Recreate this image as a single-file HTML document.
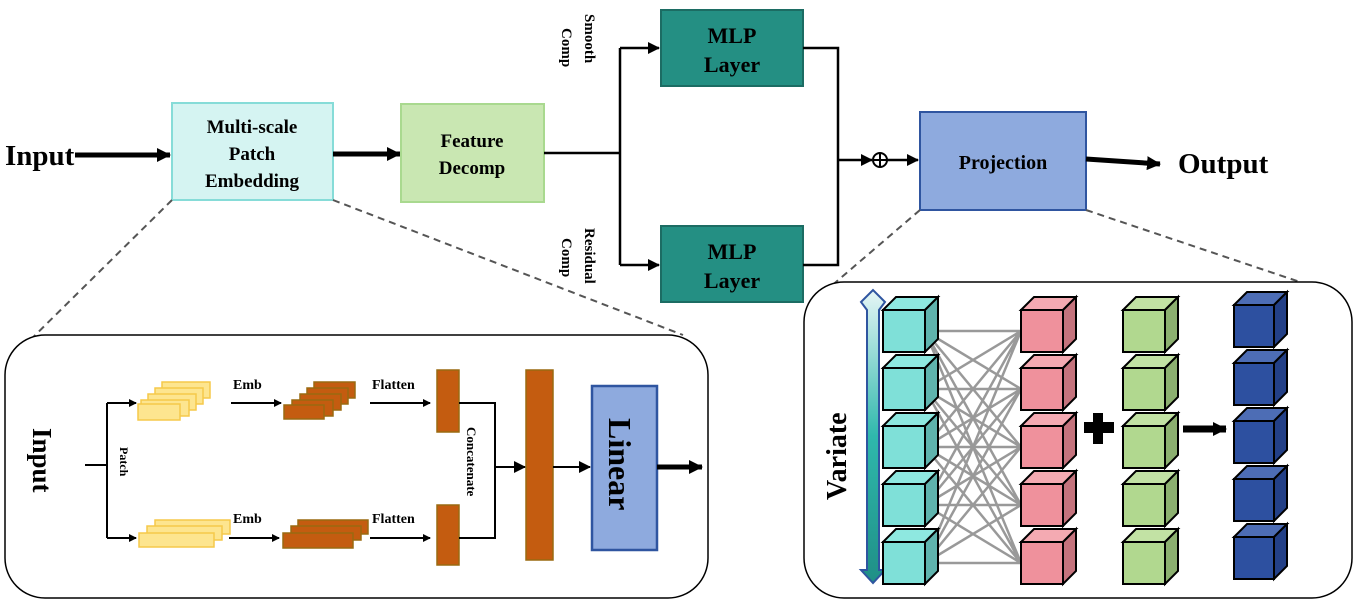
<!DOCTYPE html>
<html><head><meta charset="utf-8"><style>body{margin:0;background:#fff}svg{display:block}text{font-family:"Liberation Serif",serif;font-weight:bold}</style></head><body>
<svg width="1353" height="602" viewBox="0 0 1353 602" xmlns="http://www.w3.org/2000/svg">
<defs>
<marker id="ah" markerWidth="8" markerHeight="8" refX="7" refY="4" orient="auto" markerUnits="userSpaceOnUse"><path d="M0,0 L8,4 L0,8z" fill="#000"/></marker>
<marker id="ahb" markerWidth="14" markerHeight="14" refX="13" refY="7" orient="auto" markerUnits="userSpaceOnUse"><path d="M0,0 L14,7 L0,14z" fill="#000"/></marker>
<marker id="ahm" markerWidth="12" markerHeight="12" refX="11" refY="6" orient="auto" markerUnits="userSpaceOnUse"><path d="M0,0 L12,6 L0,12z" fill="#000"/></marker>
<g id="ct"><rect x="0" y="0" width="42" height="42" fill="#7fe0d8" stroke="#000" stroke-width="2"/><path d="M0,0 L13,-13 L55,-13 L42,0z" fill="#8ee8e0" stroke="#000" stroke-width="2"/><path d="M42,0 L55,-13 L55,29 L42,42z" fill="#5fb3ad" stroke="#000" stroke-width="2"/></g>
<g id="cp"><rect x="0" y="0" width="42" height="42" fill="#ef919c" stroke="#000" stroke-width="2"/><path d="M0,0 L13,-13 L55,-13 L42,0z" fill="#f4aab2" stroke="#000" stroke-width="2"/><path d="M42,0 L55,-13 L55,29 L42,42z" fill="#c4737d" stroke="#000" stroke-width="2"/></g>
<g id="cg"><rect x="0" y="0" width="42" height="42" fill="#b1d88f" stroke="#000" stroke-width="2"/><path d="M0,0 L13,-13 L55,-13 L42,0z" fill="#c2e2a4" stroke="#000" stroke-width="2"/><path d="M42,0 L55,-13 L55,29 L42,42z" fill="#8cb070" stroke="#000" stroke-width="2"/></g>
<g id="cb"><rect x="0" y="0" width="40" height="42" fill="#2d50a0" stroke="#000" stroke-width="2"/><path d="M0,0 L13,-13 L53,-13 L40,0z" fill="#4d6db5" stroke="#000" stroke-width="2"/><path d="M40,0 L53,-13 L53,29 L40,42z" fill="#234087" stroke="#000" stroke-width="2"/></g>
<linearGradient id="vg" x1="0" y1="0" x2="0" y2="1"><stop offset="0" stop-color="#e6f6f6"/><stop offset="0.5" stop-color="#2fb8ac"/><stop offset="1" stop-color="#1f8f86"/></linearGradient>
</defs>

<text x="5" y="165" font-size="29">Input</text>
<line x1="75" y1="155" x2="170" y2="155" stroke="#000" stroke-width="5" marker-end="url(#ahb)"/>
<rect x="172" y="103" width="161" height="97" fill="#d5f4f2" stroke="#86dcd8" stroke-width="2"/>
<text x="252" y="133" font-size="19" text-anchor="middle">Multi-scale</text>
<text x="252" y="160" font-size="19" text-anchor="middle">Patch</text>
<text x="252" y="187" font-size="19" text-anchor="middle">Embedding</text>
<line x1="333" y1="154" x2="400" y2="154" stroke="#000" stroke-width="5" marker-end="url(#ahb)"/>
<rect x="401" y="104" width="143" height="98" fill="#c9e7b2" stroke="#a9d98f" stroke-width="2"/>
<text x="472" y="147" font-size="19" text-anchor="middle">Feature</text>
<text x="472" y="174" font-size="19" text-anchor="middle">Decomp</text>
<path d="M544,153 H620 M620,48 V265" stroke="#000" stroke-width="2.5" fill="none"/>
<line x1="620" y1="48" x2="659" y2="48" stroke="#000" stroke-width="2.5" marker-end="url(#ahm)"/>
<line x1="620" y1="265" x2="659" y2="265" stroke="#000" stroke-width="2.5" marker-end="url(#ahm)"/>
<rect x="661" y="10" width="142" height="76" fill="#248f83" stroke="#1c6c63" stroke-width="2"/>
<text x="732" y="43" font-size="22" text-anchor="middle">MLP</text>
<text x="732" y="72" font-size="22" text-anchor="middle">Layer</text>
<rect x="661" y="226" width="142" height="76" fill="#248f83" stroke="#1c6c63" stroke-width="2"/>
<text x="732" y="259" font-size="22" text-anchor="middle">MLP</text>
<text x="732" y="288" font-size="22" text-anchor="middle">Layer</text>
<text transform="translate(585,14) rotate(90)" font-size="15">Smooth</text>
<text transform="translate(562,28) rotate(90)" font-size="15">Comp</text>
<text transform="translate(585,228) rotate(90)" font-size="15">Residual</text>
<text transform="translate(562,238) rotate(90)" font-size="15">Comp</text>
<path d="M803,48 H838 V265 H803" stroke="#000" stroke-width="2.5" fill="none"/>
<line x1="838" y1="160" x2="872" y2="160" stroke="#000" stroke-width="2.5" marker-end="url(#ahm)"/>
<circle cx="880" cy="160" r="7" fill="none" stroke="#000" stroke-width="2"/>
<path d="M873,160 H887 M880,153 V167" stroke="#000" stroke-width="2"/>
<line x1="887" y1="160" x2="918" y2="160" stroke="#000" stroke-width="2.5" marker-end="url(#ahm)"/>
<rect x="920" y="112" width="166" height="98" fill="#8eaade" stroke="#2f55a0" stroke-width="2"/>
<text x="1003" y="169" font-size="20" text-anchor="middle">Projection</text>
<line x1="1086" y1="159" x2="1160" y2="164" stroke="#000" stroke-width="5" marker-end="url(#ahb)"/>
<text x="1178" y="173" font-size="29">Output</text>

<g stroke="#555" stroke-width="2" stroke-dasharray="7,5">
<line x1="172" y1="200" x2="10" y2="360"/>
<line x1="333" y1="200" x2="683" y2="335"/>
<line x1="920" y1="210" x2="815" y2="300"/>
<line x1="1086" y1="210" x2="1300" y2="282"/>
</g>

<rect x="5" y="335" width="703" height="263" rx="40" fill="#fff" stroke="#000" stroke-width="1.5"/>
<text transform="translate(33,428) rotate(90)" font-size="27">Input</text>
<path d="M85,465 H107 M107,403 V538" stroke="#000" stroke-width="2" fill="none"/>
<line x1="107" y1="403" x2="136" y2="403" stroke="#000" stroke-width="2" marker-end="url(#ah)"/>
<line x1="107" y1="538" x2="136" y2="538" stroke="#000" stroke-width="2" marker-end="url(#ah)"/>
<text transform="translate(120,447) rotate(90)" font-size="12">Patch</text>
<g fill="#fde58f" stroke="#f5c94a" stroke-width="1.5">
<rect x="162" y="382" width="48" height="16"/><rect x="155" y="388" width="48" height="16"/><rect x="148" y="394" width="48" height="16"/><rect x="141" y="400" width="48" height="16"/><rect x="138" y="404" width="42" height="16"/>
<rect x="155" y="520" width="75" height="14"/><rect x="147" y="526" width="75" height="14"/><rect x="139" y="533" width="75" height="14"/>
</g>
<g fill="#c45c10" stroke="#9a6a10" stroke-width="1.5">
<rect x="314" y="382" width="41" height="16"/><rect x="307" y="388" width="41" height="16"/><rect x="300" y="394" width="41" height="16"/><rect x="292" y="400" width="41" height="16"/><rect x="284" y="405" width="40" height="14"/>
<rect x="298" y="520" width="70" height="14"/><rect x="291" y="526" width="70" height="14"/><rect x="283" y="533" width="70" height="15"/>
<rect x="437" y="370" width="22" height="62"/><rect x="437" y="505" width="22" height="60"/>
<rect x="526" y="370" width="27" height="190"/>
</g>
<text x="233" y="389" font-size="14">Emb</text>
<text x="233" y="523" font-size="14">Emb</text>
<text x="372" y="389" font-size="14">Flatten</text>
<text x="372" y="523" font-size="14">Flatten</text>
<line x1="231" y1="403" x2="281" y2="403" stroke="#000" stroke-width="2" marker-end="url(#ah)"/>
<line x1="229" y1="538" x2="279" y2="538" stroke="#000" stroke-width="2" marker-end="url(#ah)"/>
<line x1="370" y1="403" x2="430" y2="403" stroke="#000" stroke-width="2" marker-end="url(#ah)"/>
<line x1="370" y1="538" x2="430" y2="538" stroke="#000" stroke-width="2" marker-end="url(#ah)"/>
<path d="M459,403 H495 V538 H459" stroke="#000" stroke-width="2" fill="none"/>
<line x1="495" y1="467" x2="525" y2="467" stroke="#000" stroke-width="2" marker-end="url(#ahm)"/>
<text transform="translate(467,427) rotate(90)" font-size="13">Concatenate</text>
<line x1="553" y1="467" x2="590" y2="467" stroke="#000" stroke-width="2" marker-end="url(#ahm)"/>
<rect x="592" y="386" width="65" height="164" fill="#8eaade" stroke="#2f55a0" stroke-width="2.5"/>
<text transform="translate(609,418) rotate(90)" font-size="32">Linear</text>
<line x1="657" y1="467" x2="702" y2="467" stroke="#000" stroke-width="5" marker-end="url(#ahb)"/>

<rect x="804" y="282" width="548" height="316" rx="40" fill="#fff" stroke="#000" stroke-width="1.5"/>
<text transform="translate(846,500) rotate(-90)" font-size="28">Variate</text>
<path d="M867,310 L861,302 L873,290 L885,302 L879,310 V570 L885,570 L873,583 L861,570 L867,570 Z" fill="url(#vg)" stroke="#2f55a0" stroke-width="2"/>
<g stroke="#999" stroke-width="2.5">
<path d="M925,331 L1021,331 M925,331 L1021,389 M925,331 L1021,447 M925,331 L1021,505 M925,331 L1021,563
M925,389 L1021,331 M925,389 L1021,389 M925,389 L1021,447 M925,389 L1021,505 M925,389 L1021,563
M925,447 L1021,331 M925,447 L1021,389 M925,447 L1021,447 M925,447 L1021,505 M925,447 L1021,563
M925,505 L1021,331 M925,505 L1021,389 M925,505 L1021,447 M925,505 L1021,505 M925,505 L1021,563
M925,563 L1021,331 M925,563 L1021,389 M925,563 L1021,447 M925,563 L1021,505 M925,563 L1021,563"/>
</g>
<use href="#ct" x="883" y="310"/><use href="#ct" x="883" y="368"/><use href="#ct" x="883" y="426"/><use href="#ct" x="883" y="484"/><use href="#ct" x="883" y="542"/>
<use href="#cp" x="1021" y="310"/><use href="#cp" x="1021" y="368"/><use href="#cp" x="1021" y="426"/><use href="#cp" x="1021" y="484"/><use href="#cp" x="1021" y="542"/>
<use href="#cg" x="1123" y="310"/><use href="#cg" x="1123" y="368"/><use href="#cg" x="1123" y="426"/><use href="#cg" x="1123" y="484"/><use href="#cg" x="1123" y="542"/>
<use href="#cb" x="1234" y="305"/><use href="#cb" x="1234" y="363"/><use href="#cb" x="1234" y="421"/><use href="#cb" x="1234" y="479"/><use href="#cb" x="1234" y="537"/>
<path d="M1084,422 H1093 V413 H1103 V422 H1114 V433 H1103 V444 H1093 V433 H1084 Z" fill="#000"/>
<line x1="1183" y1="429" x2="1226" y2="429" stroke="#000" stroke-width="7" marker-end="url(#ahb)"/>
</svg>
</body></html>
